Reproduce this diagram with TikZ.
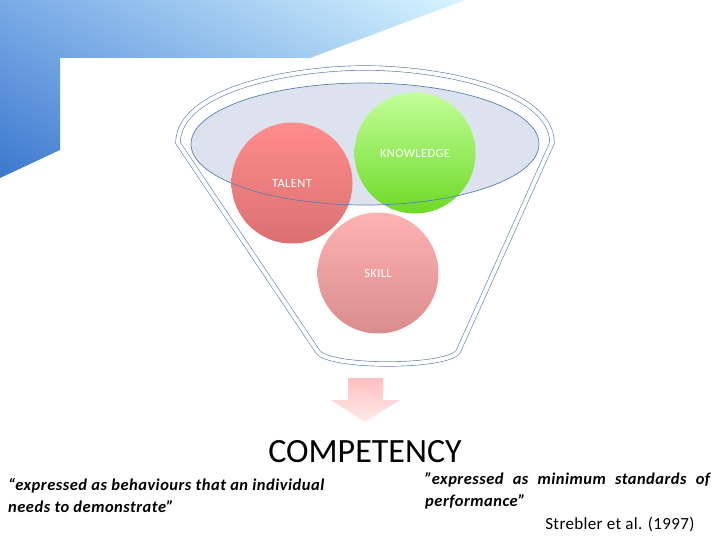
\documentclass[tikz,border=0pt]{standalone}
\usepackage{fontspec}
\usetikzlibrary{shadings}
\setmainfont{Carlito}
\definecolor{edge}{HTML}{5B7FAF}
\definecolor{ellfill}{HTML}{DCE3EE}
\definecolor{bll}{RGB}{60,120,205}
\definecolor{bul}{RGB}{120,170,230}
\definecolor{bur}{RGB}{215,245,255}
\definecolor{blr}{RGB}{150,195,240}
\begin{document}
\begin{tikzpicture}[x=1pt,y=-1pt,
  ball/.style={circle,minimum size=121pt,inner sep=0pt},
  lbl/.style={text=white,font=\fontsize{12.5}{14}\selectfont\addfontfeature{LetterSpace=3}},
  quote/.style={font=\fontsize{16.5}{22}\selectfont\bfseries\itshape\addfontfeature{LetterSpace=3},anchor=north west,inner sep=0pt,align=left}]
\useasboundingbox (0,0) rectangle (720,540);
\shade[lower left=bll, upper left=bul, upper right=bur, lower right=blr]
  (0,0) -- (465,0) -- (310,58) -- (60,58) -- (60,150) -- (0,178) -- cycle;
% funnel
\draw[edge,line width=0.6pt,double=white,double distance=4pt]
  (178,143) .. controls (178,90) and (290,68) .. (365,68)
  .. controls (440,68) and (552,90) .. (552,143)
  -- (458,352) .. controls (445,368) and (330,368) .. (318,352) -- cycle;
\fill[ellfill] (365,144) ellipse [x radius=174, y radius=61];
\node[ball,top color=red!45,bottom color=red!60!gray!70] (talent) at (292,183) {};
\node[ball,top color=green!60!yellow!40,bottom color=green!60!yellow!70!gray] (know) at (415,153) {};
\node[ball,top color=red!30,bottom color=red!50!gray!60] (skill) at (378,273) {};
\draw[edge,line width=0.7pt] (365,144) ellipse [x radius=174, y radius=61];
\node[lbl] at (talent.center) {TALENT};
\node[lbl] at (know.center) {KNOWLEDGE};
\node[lbl] at (skill.center) {SKILL};
\shade[top color=red!25,bottom color=red!8]
  (348,378) -- (383,378) -- (383,400) -- (400,400) -- (365,422) -- (331,400) -- (348,400) -- cycle;
\node[font=\fontsize{34}{36}\selectfont] (comp) at (365,452) {COMPETENCY};
\node[quote] (q1) at (8,478) {“expressed as behaviours that an individual\\needs to demonstrate”};
\node[quote,text width=285pt,align=justify] (q2) at (425,472) {\hyphenpenalty=10000 \symbol{34}expressed as minimum standards of performance\symbol{34}};
\node[font=\fontsize{17}{18}\selectfont\addfontfeature{LetterSpace=2},anchor=east] (ref) at (698,524) {Strebler et al. (1997)};
\end{tikzpicture}
\end{document}
